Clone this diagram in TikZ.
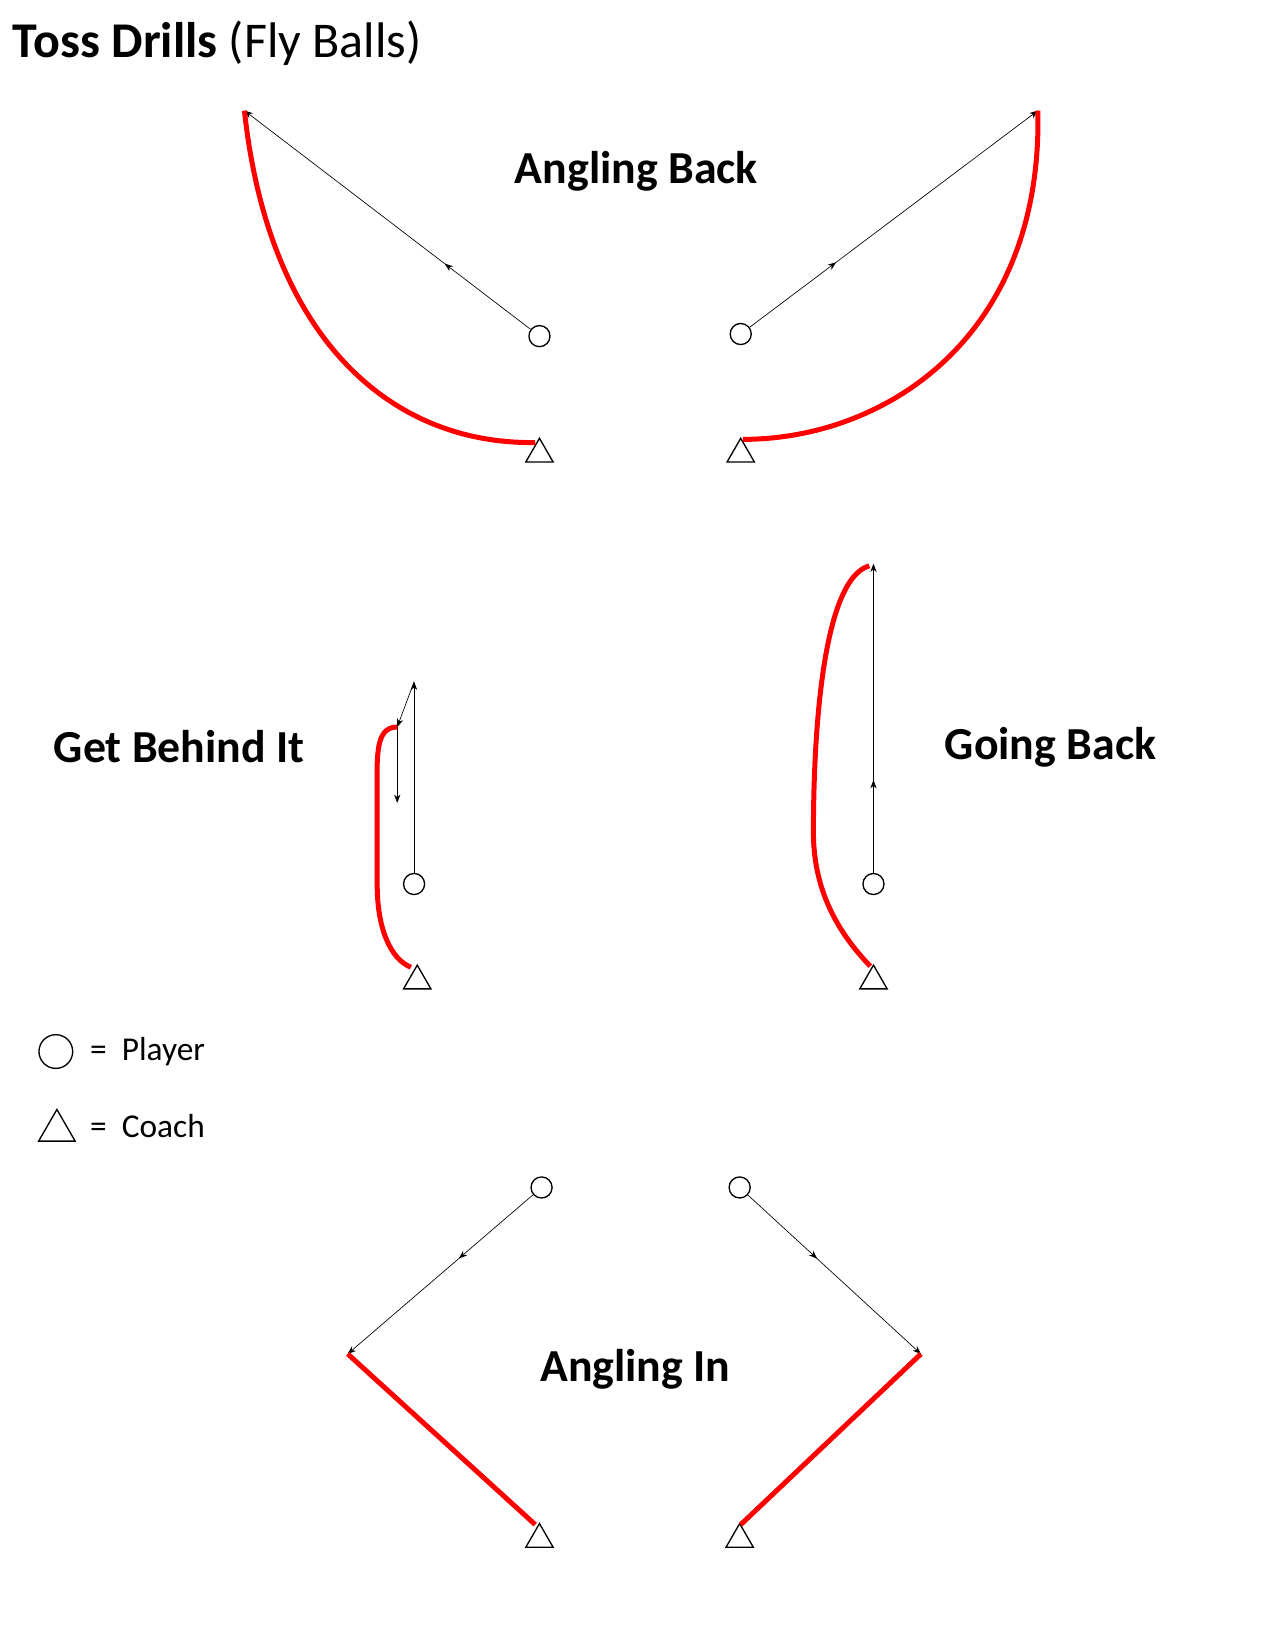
\documentclass[tikz,border=0pt]{standalone}
\usepackage{fontspec}
\setmainfont{Carlito}
\usetikzlibrary{shapes.geometric,decorations.markings,arrows.meta}
\begin{document}
\begin{tikzpicture}[x=0.632pt,y=-0.632pt,
  player/.style={circle,draw,thick,minimum size=20*0.632pt,inner sep=0pt},
  coach/.style={regular polygon,regular polygon sides=3,draw,thick,minimum size=30*0.632pt,inner sep=0pt},
  lbl/.style={font=\bfseries\fontsize{27.5}{32}\selectfont},
  run/.style={draw=red,line width=3pt},
  toss/.style={draw,thin,-{Stealth[length=5pt]}},
  mid/.style={postaction={decorate},decoration={markings,mark=at position #1 with {\arrow{Stealth[length=5pt]}}}}]
\useasboundingbox (0,0) rectangle (1210,1566);
\node[anchor=base west,inner sep=0pt,font=\fontsize{30}{36}\selectfont] (title) at (12,55) {\textbf{Toss Drills} (Fly Balls)};
% Angling Back
\node[lbl] (ab) at (604,163) {Angling Back};
\node[player] (p1) at (512,319) {};
\node[coach] (c1) at (512,431) {};
\coordinate (e1) at (232,105);
\draw[toss,mid=0.3] (p1) -- (e1);
\draw[run] (e1) .. controls (255,320) and (370,422) .. (508,420);
\node[player] (p2) at (703,317) {};
\node[coach] (c2) at (703,431) {};
\coordinate (e2) at (985,105);
\draw[toss,mid=0.3] (p2) -- (e2);
\draw[run] (e2) .. controls (990,320) and (840,417) .. (705,417);
% Get behind it
\node[lbl] (gb) at (170,709) {Get Behind It};
\node[player] (p3) at (393,839) {};
\node[coach] (c3) at (396,931) {};
\coordinate (e3) at (393,647);
\coordinate (t3) at (377,690);
\coordinate (d3) at (377,762);
\draw[toss] (p3) -- (e3);
\draw[toss] (e3) -- (t3);
\draw[toss] (t3) -- (d3);
\draw[run] (t3) .. controls (355,690) and (358,720) .. (358,760) -- (358,840) .. controls (358,880) and (370,910) .. (390,918);
% Going back
\node[lbl] (gob) at (997,709) {Going Back};
\node[player] (p4) at (829,839) {};
\node[coach] (c4) at (829,931) {};
\coordinate (e4) at (829,535);
\draw[toss,mid=0.3] (p4) -- (e4);
\draw[run] (825,537) .. controls (780,550) and (772,700) .. (772,790) .. controls (772,850) and (800,890) .. (826,917);
% Legend
\node[circle,draw,thick,minimum size=32*0.632pt,inner sep=0pt] (lp) at (53,998) {};
\node[anchor=west,font=\fontsize{20}{24}\selectfont] (lpt) at (80,998) {=\ \ Player};
\node[regular polygon,regular polygon sides=3,draw,thick,minimum size=40*0.632pt,inner sep=0pt] (lc) at (54,1073) {};
\node[anchor=west,font=\fontsize{20}{24}\selectfont] (lct) at (80,1069) {=\ \ Coach};
% Angling In
\node[lbl] (ai) at (603,1300) {Angling In};
\node[player] (p5) at (514,1127) {};
\node[coach] (c5) at (512,1461) {};
\coordinate (e5) at (330,1285);
\draw[toss,mid=0.4] (p5) -- (e5);
\draw[run] (e5) -- (508,1447);
\node[player] (p6) at (702,1127) {};
\node[coach] (c6) at (702,1461) {};
\coordinate (e6) at (874,1285);
\draw[toss,mid=0.4] (p6) -- (e6);
\draw[run] (e6) -- (703,1447);
\end{tikzpicture}
\end{document}
